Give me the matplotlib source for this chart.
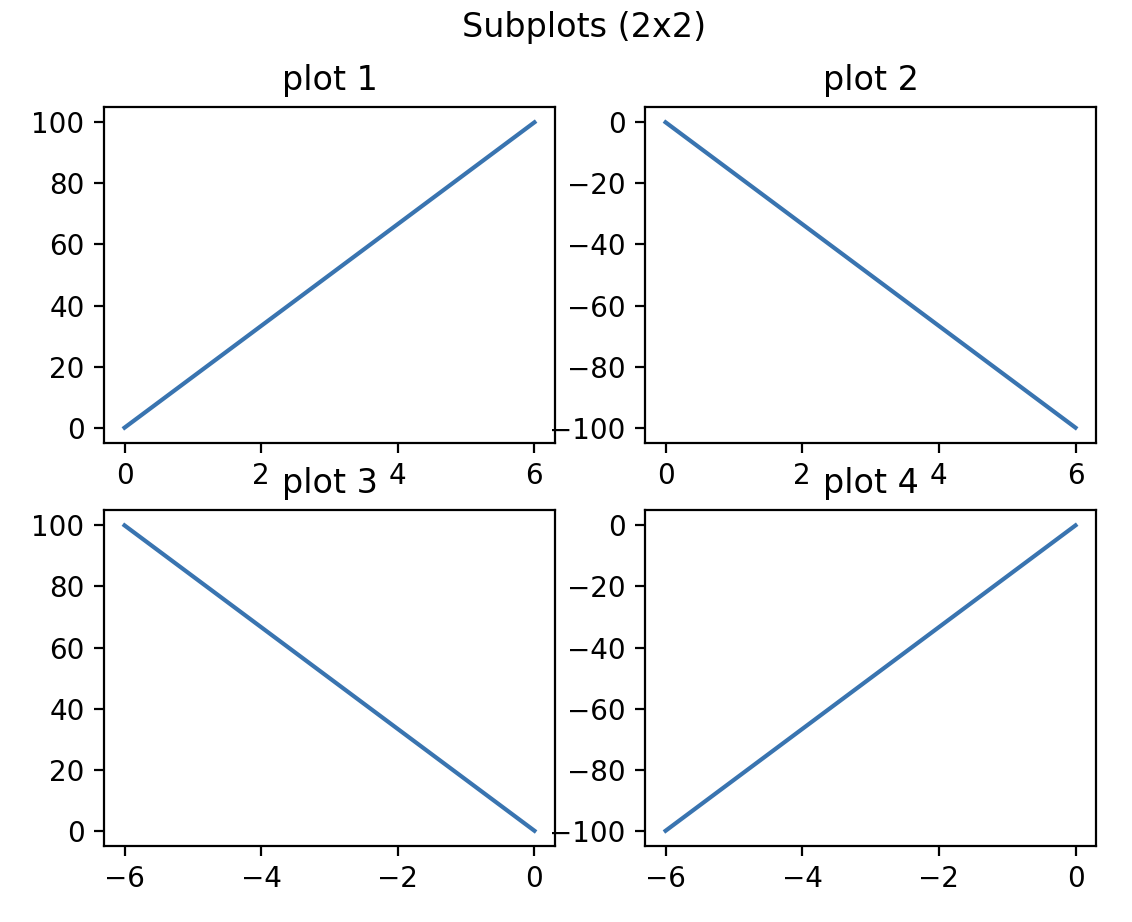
import numpy as np
import matplotlib
matplotlib.use("Agg")
import matplotlib.pyplot as plt

# data for the four panels (two end points each)
x_pos = [0, 6]
x_neg = [-6, 0]
y_up = [0, 100]
y_down = [0, -100]
y_fall = [100, 0]
y_rise = [-100, 0]
titles = ["plot 1", "plot 2", "plot 3", "plot 4"]

line_color = "#3974b0"

fig, axs = plt.subplots(2, 2, figsize=(5.66, 4.61), dpi=200)
fig.subplots_adjust(left=0.0919, right=0.9682, top=0.8839, bottom=0.0824,
                    wspace=0.2, hspace=0.2)
fig.suptitle("Subplots (2x2)", x=0.516, y=0.988)

axs[0, 0].plot(x_pos, y_up, color=line_color)
axs[0, 1].plot(x_pos, y_down, color=line_color)
axs[1, 0].plot(x_neg, y_fall, color=line_color)
axs[1, 1].plot(x_neg, y_rise, color=line_color)

for ax, t in zip(axs.flat, titles):
    ax.set_title(t)

fig.savefig("out.png", dpi=200)
